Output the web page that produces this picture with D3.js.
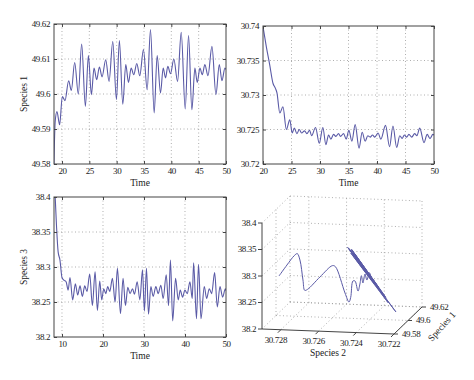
<!DOCTYPE html>
<html>
<head>
<meta charset="utf-8">
<script src="https://cdn.jsdelivr.net/npm/d3@7"></script>
<style>
body { margin: 0; background: #fff; }
svg { display: block; font-family: "Liberation Serif", "DejaVu Serif", serif; }
</style>
</head>
<body>
<svg width="474" height="380"></svg>
<script>
// values (peaks and troughs of each curve)
var timeS1 = [18.53, 18.75, 19.08, 19.57, 20.06, 20.55, 21.22, 21.71, 22.32, 22.99, 23.6, 24.28, 24.83, 25.38, 25.86, 26.35, 26.84, 27.33, 28.0, 28.61, 29.29, 29.96, 30.5, 31.12, 31.67, 32.16, 32.65, 33.13, 33.68, 34.23, 34.9, 35.58, 36.19, 36.86, 37.41, 38.02, 38.51, 38.94, 39.36, 39.85, 40.46, 41.14, 41.81, 42.54, 43.15, 43.76, 44.31, 44.74, 45.23, 45.66, 46.14, 46.7, 47.43, 48.16, 48.77, 49.26, 49.8, 50];
var species1 = [49.58, 49.592, 49.595, 49.5912, 49.5993, 49.5981, 49.6038, 49.601, 49.609, 49.6, 49.6143, 49.5965, 49.611, 49.5998, 49.6074, 49.6041, 49.6077, 49.6049, 49.6098, 49.6036, 49.615, 49.5984, 49.6153, 49.5971, 49.6084, 49.6033, 49.6074, 49.6055, 49.6087, 49.6052, 49.6127, 49.6012, 49.6184, 49.5946, 49.611, 49.6003, 49.6074, 49.6046, 49.6079, 49.6058, 49.61, 49.6036, 49.6176, 49.5957, 49.6167, 49.5955, 49.6074, 49.6033, 49.6074, 49.6055, 49.6084, 49.6052, 49.6136, 49.5998, 49.6084, 49.6038, 49.6074, 49.607];

var timeS2 = [20.02, 20.58, 21.17, 21.75, 22.16, 22.45, 22.95, 23.5, 24.1, 24.7, 25.12, 25.49, 25.95, 26.36, 26.77, 27.3, 27.7, 28.17, 28.52, 29.22, 29.87, 30.5, 31.03, 31.5, 31.91, 32.38, 32.78, 33.25, 33.6, 34.13, 34.6, 35.06, 35.59, 36.17, 36.85, 37.4, 37.92, 38.39, 38.8, 39.21, 39.61, 40.2, 40.67, 41.5, 42.2, 42.8, 43.45, 44.0, 44.4, 44.8, 45.2, 45.6, 46.1, 46.6, 47.0, 47.5, 48.25, 48.8, 49.3, 49.8, 50];
var species2 = [30.7398, 30.737, 30.7344, 30.7317, 30.731, 30.7303, 30.7274, 30.7283, 30.725, 30.7264, 30.7245, 30.7252, 30.7244, 30.725, 30.7245, 30.7248, 30.7244, 30.7249, 30.7241, 30.7253, 30.723, 30.7253, 30.7228, 30.7242, 30.7236, 30.7243, 30.724, 30.7244, 30.724, 30.7244, 30.7236, 30.7249, 30.7233, 30.7257, 30.7223, 30.7246, 30.7233, 30.7241, 30.7239, 30.7242, 30.7239, 30.7245, 30.7236, 30.7256, 30.7225, 30.7255, 30.7224, 30.7241, 30.7237, 30.7242, 30.7239, 30.7243, 30.7239, 30.7244, 30.7241, 30.7252, 30.7231, 30.7243, 30.7237, 30.7243, 30.7242];

var timeS3 = [8.3, 8.65, 9.05, 9.5, 10.0, 10.5, 11.0, 11.5, 11.95, 12.6, 13.26, 13.83, 14.4, 14.97, 15.54, 16.1, 16.76, 17.41, 18.07, 18.64, 19.2, 19.69, 20.18, 20.67, 21.16, 21.65, 22.3, 22.95, 23.52, 24.26, 24.9, 25.48, 26.05, 26.6, 27.2, 27.68, 28.33, 29.0, 29.63, 30.1, 30.6, 31.1, 31.67, 32.24, 32.9, 33.46, 34.11, 34.68, 35.42, 35.99, 36.45, 37.0, 37.7, 38.35, 38.84, 39.41, 39.98, 40.55, 41.2, 41.77, 42.1, 42.8, 43.3, 43.9, 44.7, 45.27, 45.93, 46.5, 47.23, 47.88, 48.53, 49.18, 49.84, 50];
var species3 = [38.405, 38.36, 38.322, 38.31, 38.285, 38.281, 38.279, 38.267, 38.285, 38.253, 38.276, 38.26, 38.273, 38.258, 38.273, 38.265, 38.29, 38.245, 38.293, 38.238, 38.28, 38.253, 38.269, 38.262, 38.272, 38.265, 38.284, 38.25, 38.298, 38.2335, 38.284, 38.245, 38.271, 38.262, 38.269, 38.261, 38.279, 38.253, 38.296, 38.237, 38.298, 38.2325, 38.272, 38.258, 38.272, 38.262, 38.274, 38.255, 38.289, 38.245, 38.31, 38.223, 38.284, 38.253, 38.267, 38.257, 38.267, 38.262, 38.279, 38.255, 38.306, 38.226, 38.304, 38.226, 38.272, 38.255, 38.269, 38.262, 38.292, 38.243, 38.272, 38.257, 38.269, 38.266];

// phase portrait (species 2, species 1, species 3)
var phaseS2 = [30.72884, 30.72842, 30.72805, 30.72789, 30.72773, 30.72757, 30.72746, 30.72731, 30.72667, 30.72603, 30.72587, 30.72534, 30.72513, 30.72502, 30.72492, 30.72481, 30.72465, 30.72455, 30.72449, 30.72439, 30.72428, 30.72418, 30.72407, 30.72396, 30.72494, 30.72361, 30.72506, 30.72336, 30.72514, 30.72264, 30.72519, 30.72302, 30.72499, 30.72379, 30.72481, 30.72404, 30.72504, 30.7232, 30.72488, 30.72392, 30.72468, 30.72417, 30.72448];
var phaseS1 = [49.6, 49.6, 49.6005, 49.6005, 49.6, 49.6, 49.5995, 49.5995, 49.6, 49.6005, 49.6005, 49.6, 49.6, 49.5995, 49.6, 49.6, 49.6, 49.6, 49.6005, 49.6, 49.6, 49.6, 49.6005, 49.6, 49.6012, 49.6008, 49.6016, 49.6004, 49.6, 49.6, 49.5996, 49.5992, 49.5988, 49.5994, 49.6, 49.6004, 49.601, 49.6006, 49.6014, 49.6, 49.5994, 49.5998, 49.6];
var phaseS3 = [38.2748, 38.296, 38.3136, 38.3176, 38.3064, 38.269, 38.2502, 38.2522, 38.2758, 38.2974, 38.2958, 38.2474, 38.2306, 38.2402, 38.2706, 38.2708, 38.252, 38.2654, 38.2806, 38.2676, 38.2846, 38.2734, 38.2868, 38.2776, 38.3225, 38.2605, 38.3284, 38.2486, 38.332, 38.2152, 38.3344, 38.2331, 38.3249, 38.2688, 38.3165, 38.2808, 38.3272, 38.2414, 38.3201, 38.2748, 38.3106, 38.2867, 38.301];

// ticks
var ticksTime1 = [20, 25, 30, 35, 40, 45, 50];
var ticksTime3 = [10, 20, 30, 40, 50];
var ticksS1 = [49.58, 49.59, 49.6, 49.61, 49.62];
var labelsS1 = ['49.58', '49.59', '49.6', '49.61', '49.62'];
var ticksS2 = [30.72, 30.725, 30.73, 30.735, 30.74];
var labelsS2 = ['30.72', '30.725', '30.73', '30.735', '30.74'];
var ticksS3 = [38.2, 38.25, 38.3, 38.35, 38.4];
var labelsS3 = ['38.2', '38.25', '38.3', '38.35', '38.4'];
var ticks3dS2 = [30.728, 30.726, 30.724, 30.722];
var labels3dS2 = ['30.728', '30.726', '30.724', '30.722'];
var ticks3dS1 = [49.58, 49.6, 49.62];
var labels3dS1 = ['49.58', '49.6', '49.62'];
var ticks3dS3 = [38.2, 38.25, 38.3, 38.35, 38.4];
var labels3dS3 = ['38.2', '38.25', '38.3', '38.35', '38.4'];

var lineColor = '#5a5aa6', frameColor = '#444', gridColor = '#9a9a9a';
var svg = d3.select('svg');
svg.append('rect').attr('width', 474).attr('height', 380).attr('fill', '#fff');

function panel(o) {
    var g = svg.append('g');
    var x = d3.scaleLinear().domain(o.xDomain).range([o.left, o.right]);
    var y = d3.scaleLinear().domain(o.yDomain).range([o.bottom, o.top]);

    // dotted grid
    g.selectAll('.gx').data(o.xTicks.filter(function(d){ return x(d) > o.left + 1 && x(d) < o.right - 1; }))
        .enter().append('line')
        .attr('x1', function(d){ return x(d); }).attr('x2', function(d){ return x(d); })
        .attr('y1', o.top).attr('y2', o.bottom)
        .attr('stroke', gridColor).attr('stroke-width', 0.8).attr('stroke-dasharray', '1,2.5');
    g.selectAll('.gy').data(o.yTicks.filter(function(d){ return y(d) > o.top + 1 && y(d) < o.bottom - 1; }))
        .enter().append('line')
        .attr('y1', function(d){ return y(d); }).attr('y2', function(d){ return y(d); })
        .attr('x1', o.left).attr('x2', o.right)
        .attr('stroke', gridColor).attr('stroke-width', 0.8).attr('stroke-dasharray', '1,2.5');

    // curve
    svg.append('clipPath').attr('id', 'clip' + o.name).append('rect')
        .attr('x', o.left).attr('y', o.top).attr('width', o.right - o.left).attr('height', o.bottom - o.top);
    var line = d3.line()
        .x(function(i){ return x(o.t[i]); })
        .y(function(i){ return y(o.v[i]); })
        .curve(d3.curveMonotoneX);
    g.append('path').datum(d3.range(o.t.length))
        .attr('d', line)
        .attr('clip-path', 'url(#clip' + o.name + ')')
        .attr('fill', 'none').attr('stroke', lineColor).attr('stroke-width', 1.1);

    // axes with inward ticks
    var ax = [
        d3.axisBottom(x).tickValues(o.xTicks).tickFormat(d3.format('d')),
        d3.axisLeft(y).tickValues(o.yTicks).tickFormat(function(d, i){ return o.yLabels[i]; }),
        d3.axisTop(x).tickValues(o.xTicks).tickFormat(''),
        d3.axisRight(y).tickValues(o.yTicks).tickFormat('')
    ];
    var pos = ['translate(0,' + o.bottom + ')', 'translate(' + o.left + ',0)', 'translate(0,' + o.top + ')', 'translate(' + o.right + ',0)'];
    ax.forEach(function(a, k){
        var ag = g.append('g').attr('transform', pos[k])
            .call(a.tickSize(-3).tickPadding(4));
        ag.select('.domain').remove();
        ag.selectAll('line').attr('stroke', frameColor);
        ag.selectAll('text').attr('font-family', '"Liberation Serif", serif').attr('font-size', 9)
            .attr('letter-spacing', -0.4).attr('fill', '#222');
    });

    g.append('rect').attr('x', o.left).attr('y', o.top)
        .attr('width', o.right - o.left).attr('height', o.bottom - o.top)
        .attr('fill', 'none').attr('stroke', frameColor).attr('stroke-width', 1);

    g.append('text').text('Time')
        .attr('x', (o.left + o.right) / 2).attr('y', o.bottom + 22)
        .attr('text-anchor', 'middle').attr('font-size', 9.5).attr('fill', '#222');
    if (o.yTitle) {
        g.append('text').text(o.yTitle)
            .attr('transform', 'translate(' + (o.left - 27) + ',' + ((o.top + o.bottom) / 2) + ') rotate(-90)')
            .attr('text-anchor', 'middle').attr('font-size', 9.5).attr('fill', '#222');
    }
}

panel({ name: 'a', left: 54, right: 226, top: 24, bottom: 164, xDomain: [18.54, 50], yDomain: [49.58, 49.62],
    xTicks: ticksTime1, yTicks: ticksS1, yLabels: labelsS1, t: timeS1, v: species1, yTitle: 'Species 1' });
panel({ name: 'b', left: 263, right: 434, top: 26, bottom: 164, xDomain: [20, 50], yDomain: [30.72, 30.74],
    xTicks: ticksTime1, yTicks: ticksS2, yLabels: labelsS2, t: timeS2, v: species2, yTitle: null });
panel({ name: 'c', left: 54, right: 226, top: 197, bottom: 337, xDomain: [8.05, 50], yDomain: [38.2, 38.4],
    xTicks: ticksTime3, yTicks: ticksS3, yLabels: labelsS3, t: timeS3, v: species3, yTitle: 'Species 3' });

// 3D phase portrait, simple fixed projection
var u3 = d3.scaleLinear().domain([30.729, 30.722]).range([0, 1]);
var v3 = d3.scaleLinear().domain([49.58, 49.62]).range([0, 1]);
var w3 = d3.scaleLinear().domain([38.2, 38.4]).range([0, 1]);
var origin = [262, 329], ex = [132, 5], ey = [28, -27], ez = [0, -106];
function proj(a, b, c) {
    var U = u3(a), V = v3(b), W = w3(c);
    return [origin[0] + ex[0] * U + ey[0] * V + ez[0] * W,
            origin[1] + ex[1] * U + ey[1] * V + ez[1] * W];
}
var s2Lo = 30.729, s2Hi = 30.722, s1Lo = 49.58, s1Hi = 49.62, s3Lo = 38.2, s3Hi = 38.4;

var segs = [];
// back wall
ticks3dS2.forEach(function(a){ segs.push([[a, s1Hi, s3Lo], [a, s1Hi, s3Hi]]); });
ticks3dS3.forEach(function(c){ segs.push([[s2Lo, s1Hi, c], [s2Hi, s1Hi, c]]); });
// left wall
ticks3dS1.slice(1).forEach(function(b){ segs.push([[s2Lo, b, s3Lo], [s2Lo, b, s3Hi]]); });
ticks3dS3.forEach(function(c){ segs.push([[s2Lo, s1Lo, c], [s2Lo, s1Hi, c]]); });
// floor
ticks3dS2.forEach(function(a){ segs.push([[a, s1Lo, s3Lo], [a, s1Hi, s3Lo]]); });
ticks3dS1.slice(1).forEach(function(b){ segs.push([[s2Lo, b, s3Lo], [s2Hi, b, s3Lo]]); });

var g3 = svg.append('g');
g3.selectAll('.grid3').data(segs).enter().append('line')
    .attr('x1', function(d){ return proj.apply(null, d[0])[0]; })
    .attr('y1', function(d){ return proj.apply(null, d[0])[1]; })
    .attr('x2', function(d){ return proj.apply(null, d[1])[0]; })
    .attr('y2', function(d){ return proj.apply(null, d[1])[1]; })
    .attr('stroke', gridColor).attr('stroke-width', 0.8).attr('stroke-dasharray', '1,2.5');

// solid axis lines
var axes3 = [
    [[s2Lo, s1Lo, s3Lo], [s2Lo, s1Lo, s3Hi]],
    [[s2Lo, s1Lo, s3Lo], [s2Hi, s1Lo, s3Lo]],
    [[s2Hi, s1Lo, s3Lo], [s2Hi, s1Hi, s3Lo]]
];
g3.selectAll('.axis3').data(axes3).enter().append('line')
    .attr('x1', function(d){ return proj.apply(null, d[0])[0]; })
    .attr('y1', function(d){ return proj.apply(null, d[0])[1]; })
    .attr('x2', function(d){ return proj.apply(null, d[1])[0]; })
    .attr('y2', function(d){ return proj.apply(null, d[1])[1]; })
    .attr('stroke', frameColor).attr('stroke-width', 1);

// phase curve
var line3 = d3.line()
    .x(function(i){ return proj(phaseS2[i], phaseS1[i], phaseS3[i])[0]; })
    .y(function(i){ return proj(phaseS2[i], phaseS1[i], phaseS3[i])[1]; })
    .curve(d3.curveCatmullRom.alpha(0.5));
g3.append('path').datum(d3.range(phaseS2.length))
    .attr('d', line3)
    .attr('fill', 'none').attr('stroke', lineColor).attr('stroke-width', 1);

// ticks and labels
var tk = g3.append('g').attr('font-size', 9).attr('letter-spacing', -0.4).attr('fill', '#222');
ticks3dS3.forEach(function(c, i){
    var p = proj(s2Lo, s1Lo, c);
    tk.append('line').attr('x1', p[0]).attr('y1', p[1]).attr('x2', p[0] - 4).attr('y2', p[1]).attr('stroke', frameColor);
    tk.append('text').text(labels3dS3[i]).attr('x', p[0] - 6).attr('y', p[1]).attr('dy', '0.32em').attr('text-anchor', 'end');
});
ticks3dS2.forEach(function(a, i){
    var p = proj(a, s1Lo, s3Lo);
    tk.append('line').attr('x1', p[0]).attr('y1', p[1]).attr('x2', p[0] - 3).attr('y2', p[1] + 3).attr('stroke', frameColor);
    tk.append('text').text(labels3dS2[i]).attr('x', p[0] - 5).attr('y', p[1] + 13).attr('text-anchor', 'middle');
});
ticks3dS1.forEach(function(b, i){
    var p = proj(s2Hi, b, s3Lo);
    tk.append('line').attr('x1', p[0]).attr('y1', p[1]).attr('x2', p[0] + 4).attr('y2', p[1]).attr('stroke', frameColor);
    tk.append('text').text(labels3dS1[i]).attr('x', p[0] + 8).attr('y', p[1]).attr('dy', '0.32em');
});
var mid2 = proj((s2Lo + s2Hi) / 2, s1Lo, s3Lo);
g3.append('text').text('Species 2').attr('x', mid2[0]).attr('y', mid2[1] + 24)
    .attr('text-anchor', 'middle').attr('font-size', 9.5).attr('fill', '#222');
var mid1 = proj(s2Hi, (s1Lo + s1Hi) / 2, s3Lo);
g3.append('text').text('Species 1')
    .attr('transform', 'translate(' + (mid1[0] + 36) + ',' + (mid1[1] + 8) + ') rotate(-48)')
    .attr('text-anchor', 'middle').attr('font-size', 9.5).attr('fill', '#222');
</script>
</body>
</html>
